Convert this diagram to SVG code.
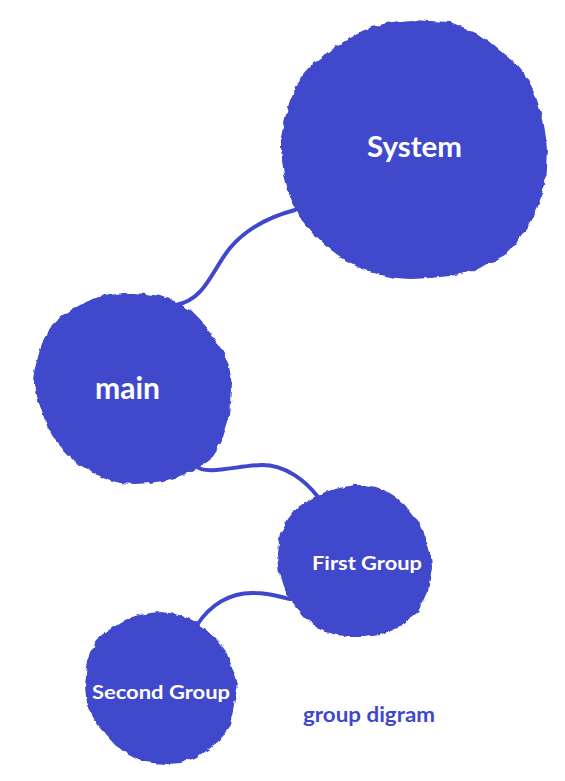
<svg xmlns="http://www.w3.org/2000/svg" width="565" height="781" viewBox="0 0 565 781">
<style>
.blob{fill:#3F48CC;filter:url(#rough);}
.conn{fill:none;stroke:#3F48CC;stroke-width:4;stroke-linecap:round;}
.lbl{font-family:Lato,"Open Sans","Liberation Sans",sans-serif;font-weight:bold;fill:#FFFFFF;text-anchor:start;}
.cap{font-family:Lato,"Open Sans","Liberation Sans",sans-serif;font-weight:bold;fill:#3F48CC;}
</style>
<defs>
<filter id="rough" x="-5%" y="-5%" width="110%" height="110%">
<feTurbulence type="fractalNoise" baseFrequency="0.12" numOctaves="2" seed="3" result="n"/>
<feDisplacementMap in="SourceGraphic" in2="n" scale="5" xChannelSelector="R" yChannelSelector="G"/>
</filter>
</defs>
<rect width="565" height="781" fill="#FFFFFF"/>
<g id="connectors">
<path class="conn" d="M176,305 C205,300 212,270 230,248 C245,230 265,218 295,210"/>
<path class="conn" d="M196,466 C205,476 240,465 262,465 C285,465 305,480 318,497"/>
<path class="conn" d="M197,625 C210,605 230,592 255,593 C270,593 280,597 290,599"/>
</g>
<g id="node-system">
<path class="blob" d="M410,20 L430,21 L450,22 L465,28 L478,34 L492,44 L505,55 L516,64 L525,75 L532,88 L537,100 L541,112 L544,125 L546,138 L547,150 L546,168 L545,185 L540,200 L535,215 L528,227 L520,238 L511,249 L505,255 L488,264 L470,272 L450,276 L430,278 L412,279 L395,278 L377,274 L360,268 L344,260 L330,250 L313,234 L300,218 L293,204 L288,190 L284,175 L282,160 L281,148 L281,137 L285,118 L290,100 L296,87 L303,75 L313,64 L325,55 L338,45 L352,37 L363,31 L375,26 L392,22 Z"/>
<text class="lbl" x="367" y="157" font-size="28" textLength="95" lengthAdjust="spacingAndGlyphs">System</text>
</g>
<g id="node-main">
<path class="blob" d="M133,293 L147,294 L160,296 L170,299 L180,303 L191,311 L200,320 L208,330 L215,340 L222,350 L228,362 L231,376 L232,390 L231,403 L230,415 L226,428 L222,440 L216,451 L210,460 L203,465 L195,470 L185,474 L175,478 L163,481 L150,483 L135,484 L120,483 L107,479 L95,474 L85,468 L75,462 L64,451 L55,440 L48,428 L43,415 L38,400 L35,385 L33,378 L36,364 L40,350 L45,337 L52,325 L60,317 L70,310 L80,304 L90,300 L100,297 L110,295 L122,293 Z"/>
<text class="lbl" x="95" y="399" font-size="31" textLength="65" lengthAdjust="spacingAndGlyphs">main</text>
</g>
<g id="node-first-group">
<path class="blob" d="M345,487 L355,485 L365,485 L375,487 L385,490 L396,497 L405,505 L413,515 L420,525 L425,535 L428,545 L431,556 L432,567 L430,579 L428,590 L423,601 L418,612 L410,619 L402,625 L391,630 L380,635 L365,637 L350,637 L337,635 L325,632 L314,625 L305,618 L297,609 L290,600 L285,590 L282,580 L279,568 L278,555 L279,542 L282,530 L288,519 L295,510 L302,505 L310,500 L317,496 L325,492 L335,489 Z"/>
<text class="lbl" x="312" y="570" font-size="19.5" textLength="110" lengthAdjust="spacingAndGlyphs">First Group</text>
</g>
<g id="node-second-group">
<path class="blob" d="M140,615 L150,613 L160,612 L170,613 L180,615 L189,619 L197,623 L205,629 L212,635 L219,642 L225,650 L229,660 L233,670 L236,677 L238,685 L236,695 L234,705 L232,715 L230,725 L225,733 L220,740 L208,750 L195,758 L181,763 L167,764 L153,763 L140,761 L127,754 L115,745 L106,735 L97,725 L92,715 L88,705 L86,696 L85,687 L86,673 L88,660 L92,650 L97,640 L103,635 L110,630 L117,625 L125,620 L132,617 Z"/>
<text class="lbl" x="92" y="699" font-size="19" textLength="138" lengthAdjust="spacingAndGlyphs">Second Group</text>
</g>
<text class="cap" x="303" y="722" font-size="20" textLength="132" lengthAdjust="spacingAndGlyphs">group digram</text>
</svg>
